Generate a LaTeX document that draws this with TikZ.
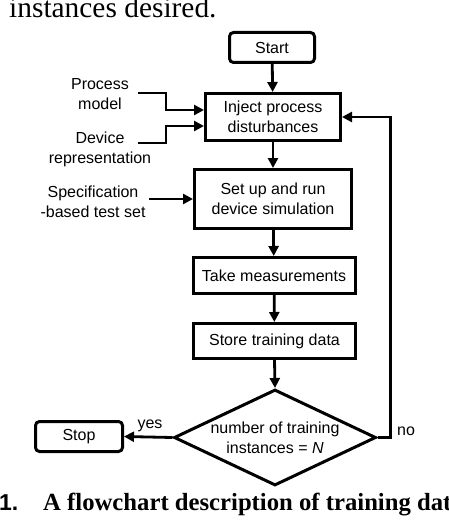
\documentclass[tikz,border=0pt]{standalone}
\usepackage{fontspec}
\setmainfont{Liberation Serif}
\setsansfont{Liberation Sans}
\usetikzlibrary{shapes.geometric,arrows.meta}
\begin{document}
\begin{tikzpicture}[x=1pt,y=-1pt,
  lbl/.style={font=\sffamily\fontsize{16}{20}\selectfont,align=center,inner sep=0pt},
  box/.style={lbl,draw,line width=3pt},
  term/.style={box,rounded corners=4pt},
  decision/.style={draw,line width=3pt,diamond,inner sep=0pt,minimum width=202pt,minimum height=96pt},
  arr/.style={line width=2.8pt,-{Triangle[length=10pt,width=10pt]}},
  feedarr/.style={line width=2.6pt,-{Triangle[length=10pt,width=10pt]}}]
\fill[white] (0,0) rectangle (448,524);
\useasboundingbox (0,0) rectangle (448,524);
% cut text above and below
\node[anchor=base west,inner sep=0pt,font=\fontsize{29.4}{31}\selectfont] (toptext) at (9,18) {instances desired.};
\node[anchor=base west,inner sep=0pt,font=\sffamily\bfseries\fontsize{23}{26}\selectfont] (capnum) at (-1,510) {1.};
\node[anchor=base west,inner sep=0pt,font=\bfseries\fontsize{24.7}{26}\selectfont] (captext) at (43,510) {A flowchart description of training dat};
% nodes
\node[term,minimum width=85pt,minimum height=30pt] (start) at (272,47.5) {Start};
\node[box,minimum width=135pt,minimum height=47pt] (inj) at (273,117) {Inject process\\disturbances};
\node[box,minimum width=157pt,minimum height=59pt] (setup) at (273,199) {Set up and run\\device simulation};
\node[box,minimum width=162pt,minimum height=36pt] (take) at (274,275.5) {Take measurements};
\node[box,minimum width=162pt,minimum height=35pt] (store) at (274.5,341) {Store training data};
\node[decision] (dec) at (275,437.5) {};
\node[lbl] (dectext) at (275,438) {number of training\\instances = \textit{N}};
\node[term,minimum width=87pt,minimum height=30pt] (stop) at (79,436.5) {Stop};
% input labels
\node[lbl] (pm) at (100,94) {Process\\model};
\node[lbl] (dr) at (100,149.5) {Device\\representation};
\node[lbl] (spec) at (93,201.5) {Specification\\-based test set};
\coordinate (pmA) at (138,93);
\coordinate (drA) at (138,143);
\coordinate (specA) at (149,199);
% main flow
\draw[arr] (start) -- (inj);
\draw[arr] (inj) -- (setup);
\draw[arr] (setup) -- (take);
\draw[arr] (take) -- (store);
\draw[arr] (store.south) -- (dec.north);
\draw[arr] (dec.west) -- (stop.east);
\draw[feedarr] (dec.east) -- ++(13,0) |- (inj.east);
% inputs
\draw[feedarr] (pmA) -- ++(28,0) |- ([yshift=7pt]inj.west);
\draw[feedarr] (drA) -- ++(28,0) |- ([yshift=-9pt]inj.west);
\draw[feedarr] (specA) -- (setup.west);
% branch labels
\node[lbl,anchor=base] (yes) at (150,428) {yes};
\node[lbl,anchor=base] (no) at (406,435) {no};
\end{tikzpicture}
\end{document}
